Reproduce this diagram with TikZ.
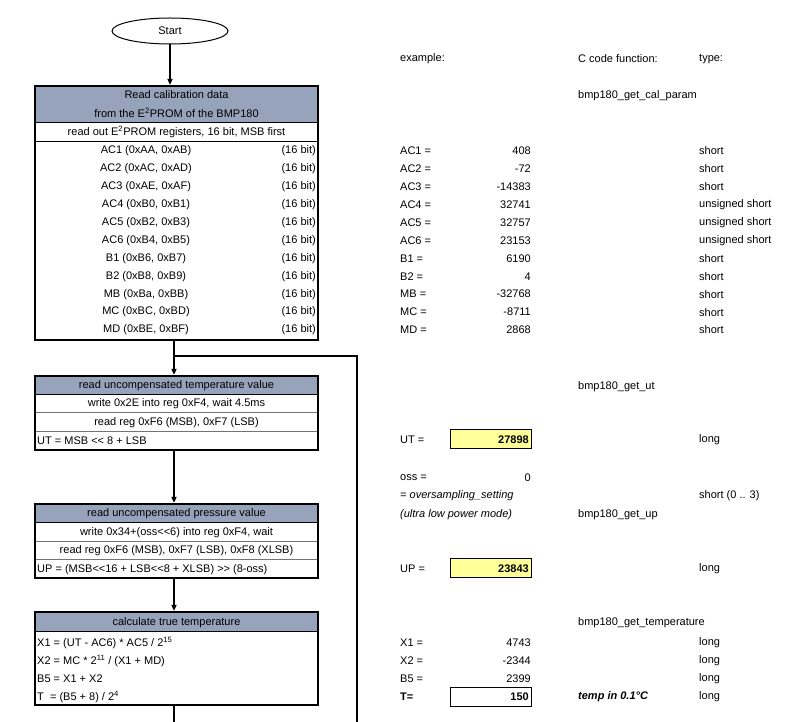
\documentclass[tikz,border=0pt]{standalone}
\usepackage{fontspec}
\setmainfont{Liberation Sans}[Ligatures=NoCommon]
\usetikzlibrary{arrows.meta,shapes.geometric}
\definecolor{hdr}{RGB}{151,163,187}
\definecolor{ylw}{RGB}{255,255,153}
\begin{document}
\begin{tikzpicture}[x=1pt,y=-1pt,
  every node/.style={font=\fontsize{11}{13}\selectfont, inner sep=0pt},
  boxframe/.style={draw, line width=2.2pt, inner sep=0pt},
  thinrule/.style={draw=black!55, line width=0.6pt},
  flow/.style={line width=1.6pt, -{Triangle[length=6pt,width=5pt]}},
  plain/.style={line width=1.6pt},
  lab/.style={anchor=west},
  val/.style={anchor=east},
  valbox/.style={draw, line width=1pt, minimum width=81pt, minimum height=19pt}]
\useasboundingbox (0,0) rectangle (812,722);
% start
\node[draw, line width=1pt, ellipse, minimum width=116pt, minimum height=26pt] (start) at (170,31) {Start};
% header fills
\fill[hdr] (35,86) rectangle (318,122);
\fill[hdr] (35,376) rectangle (318,394);
\fill[hdr] (35,504) rectangle (318,522);
\fill[hdr] (35,612) rectangle (318,631);
% box1
\draw[line width=0.8pt] (35,122) -- (318,122) (35,141) -- (318,141);
\node[boxframe, minimum width=283pt, minimum height=254pt] (b1) at (176.5,213) {};
\node at (176.5,95) {Read calibration data};
\node at (176.5,113) {from the E\textsuperscript{2}PROM of the BMP180};
\node at (176.5,132) {read out E\textsuperscript{2}PROM registers, 16 bit, MSB first};
\foreach \t [count=\i from 0] in {AC1 (0xAA{,} 0xAB),AC2 (0xAC{,} 0xAD),AC3 (0xAE{,} 0xAF),AC4 (0xB0{,} 0xB1),AC5 (0xB2{,} 0xB3),AC6 (0xB4{,} 0xB5),B1 (0xB6{,} 0xB7),B2 (0xB8{,} 0xB9),MB (0xBa{,} 0xBB),MC (0xBC{,} 0xBD),MD (0xBE{,} 0xBF)}{
  \node at (146,151+17.9*\i) {\t};
  \node[val] at (316,151+17.9*\i) {(16 bit)};
}
% box2
\draw[line width=0.8pt] (35,394) -- (318,394);
\draw[thinrule] (35,412) -- (318,412) (35,431) -- (318,431);
\node[boxframe, minimum width=283pt, minimum height=74pt] (b2) at (176.5,413) {};
\node at (176.5,386) {read uncompensated temperature value};
\node at (176.5,404) {write 0x2E into reg 0xF4, wait 4.5ms};
\node at (176.5,422.5) {read reg 0xF6 (MSB), 0xF7 (LSB)};
\node[lab] at (37,441) {UT = MSB {<}{<} 8 + LSB};
% box3
\draw[line width=0.8pt] (35,522) -- (318,522);
\draw[thinrule] (35,541) -- (318,541) (35,559) -- (318,559);
\node[boxframe, minimum width=283pt, minimum height=74pt] (b3) at (176.5,541) {};
\node at (176.5,514) {read uncompensated pressure value};
\node at (176.5,532.5) {write 0x34+(oss{<}{<}6) into reg 0xF4, wait};
\node at (176.5,551) {read reg 0xF6 (MSB), 0xF7 (LSB), 0xF8 (XLSB)};
\node[lab] at (37,569.5) {UP = (MSB{<}{<}16 + LSB{<}{<}8 + XLSB) {>}{>} (8-oss)};
% box4
\draw[line width=0.8pt] (35,631) -- (318,631);
\node[boxframe, minimum width=283pt, minimum height=93pt] (b4) at (176.5,658.5) {};
\node at (176.5,623) {calculate true temperature};
\node[lab] at (37,643) {X1 = (UT - AC6) * AC5 / 2\textsuperscript{15}};
\node[lab] at (37,661) {X2 = MC * 2\textsuperscript{11} / (X1 + MD)};
\node[lab] at (37,679) {B5 = X1 + X2};
\node[lab] at (37,697) {T \ = (B5 + 8) / 2\textsuperscript{4}};
% connectors
\coordinate (loopbot) at (357,722);
\coordinate (join) at (174,356);
\coordinate (endbot) at (174,722);
\draw[flow] (start.south) -- (start.south |- b1.north);
\draw[flow] (b1.south -| join) -- (join |- b2.north);
\draw[plain] (loopbot) |- (join);
\draw[flow] (b2.south -| join) -- (join |- b3.north);
\draw[flow] (b3.south -| join) -- (join |- b4.north);
\draw[plain] (b4.south -| join) -- (endbot);
% right side
\node[lab] at (400,59) {example:};
\node[lab] at (578,59) {C code function:};
\node[lab] at (699,59) {type:};
\node[lab] at (578,96) {bmp180\_get\_cal\_param};
\foreach \n/\v/\ty [count=\i from 0] in {AC1/408/short,AC2/-72/short,AC3/-14383/short,AC4/32741/unsigned short,AC5/32757/unsigned short,AC6/23153/unsigned short,B1/6190/short,B2/4/short,MB/-32768/short,MC/-8711/short,MD/2868/short}{
  \node[lab] at (400,151+17.9*\i) {\n\ =};
  \node[val] at (531,151+17.9*\i) {\v};
  \node[lab] at (699,151+17.9*\i) {\ty};
}
\node[lab] at (578,387) {bmp180\_get\_ut};
\node[lab] at (400,440) {UT =};
\node[valbox, fill=ylw] (utv) at (490.5,439) {};
\node[val] at (529,440) {\bfseries 27898};
\node[lab] at (699,440) {long};
\node[lab] at (400,478) {oss =};
\node[val] at (531,478) {0};
\node[lab] at (400,496) {\itshape = oversampling\_setting};
\node[lab] at (699,496) {short (0 .. 3)};
\node[lab] at (400,515) {\itshape (ultra low power mode)};
\node[lab] at (578,515) {bmp180\_get\_up};
\node[lab] at (400,569) {UP =};
\node[valbox, fill=ylw] (upv) at (490.5,568) {};
\node[val] at (529,569) {\bfseries 23843};
\node[lab] at (699,569) {long};
\node[lab] at (578,623) {bmp180\_get\_temperature};
\node[lab] at (400,643) {X1 =}; \node[val] at (531,643) {4743}; \node[lab] at (699,643) {long};
\node[lab] at (400,661) {X2 =}; \node[val] at (531,661) {-2344}; \node[lab] at (699,661) {long};
\node[lab] at (400,679) {B5 =}; \node[val] at (531,679) {2399}; \node[lab] at (699,679) {long};
\node[lab] at (400,697) {\bfseries T=};
\node[valbox] (tv) at (490.5,696.5) {};
\node[val] at (529,697) {\bfseries 150};
\node[lab] at (578,697) {\bfseries\itshape temp in 0.1°C};
\node[lab] at (699,697) {long};
\end{tikzpicture}
\end{document}
